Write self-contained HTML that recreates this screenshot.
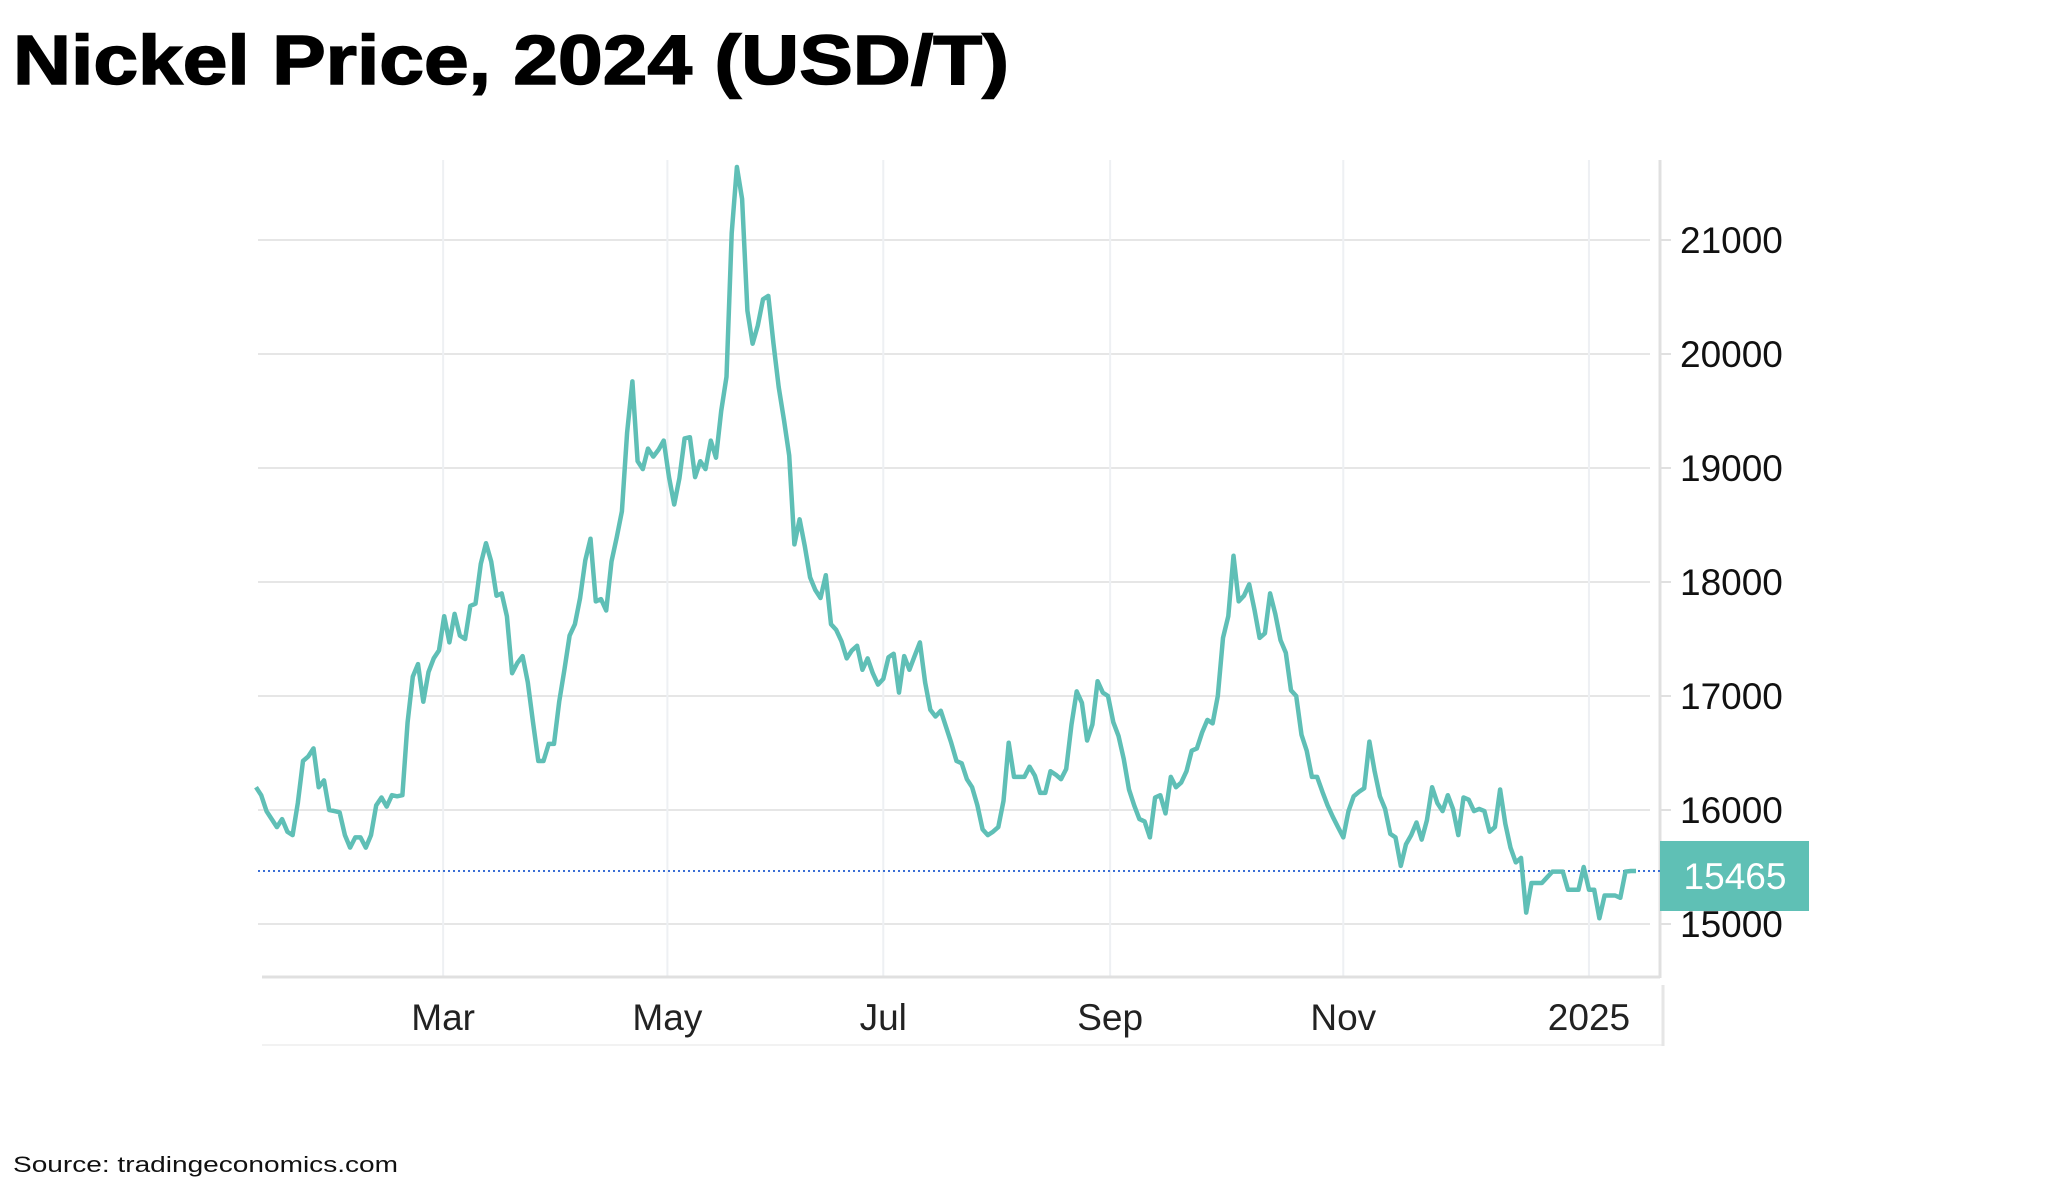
<!DOCTYPE html>
<html><head><meta charset="utf-8"><style>
html,body{margin:0;padding:0;background:#fff;}
svg{display:block;font-family:"Liberation Sans",sans-serif;}
</style></head><body>
<svg id="chart" width="2048" height="1198" viewBox="0 0 2048 1198" xmlns="http://www.w3.org/2000/svg">
<text x="13" y="84" font-size="70" font-weight="bold" fill="#000" textLength="996" lengthAdjust="spacingAndGlyphs" stroke="#000" stroke-width="1.5">Nickel Price, 2024 (USD/T)</text>
<text x="13" y="1172" font-size="22" fill="#111" textLength="385" lengthAdjust="spacingAndGlyphs">Source: tradingeconomics.com</text>
<g id="grid"></g>
<g id="axes"></g>
<g id="series"></g>
<g id="labels"></g>
</svg>
<script>
const prices = [
16200,16130,15990,15920,15850,15920,15810,15780,16060,16430,
16470,16540,16200,16260,16000,15990,15980,15780,15670,15760,
15760,15670,15780,16040,16110,16030,16130,16120,16130,
16770,17170,17280,16950,17210,17330,17400,17700,17470,17720,
17530,17500,17790,17810,18160,18340,18180,17880,17900,17700,
17200,17290,17350,17120,16770,16430,16430,16580,16580,
16950,17230,17530,17630,17860,18190,18380,17830,17850,
17750,18180,18390,18620,19310,19760,19060,18990,19170,19100,
19160,19240,18920,18680,18910,19260,19270,18920,19060,18990,
19240,19090,19500,19800,21060,21640,21360,20380,20090,20250,
20480,20510,20090,19710,19420,19110,18330,18550,18310,18040,
17930,17860,18060,17630,17580,17480,17330,17400,17440,17230,
17330,17200,17100,17150,17340,17370,17030,17350,17230,17350,
17470,17120,16880,16820,16870,16730,16590,16430,16410,16270,
16200,16040,15830,15780,15810,15850,16080,16590,16290,16290,
16290,16380,16300,16150,16150,16340,16310,16270,16360,16750,
17040,16940,16610,16750,17130,17030,17000,16770,16650,16450,
16180,16040,15920,15900,15760,16110,16130,15970,16290,16200,
16240,16340,16520,16540,16680,16790,16760,17000,17510,17700,
18230,17830,17880,17980,17760,17510,17550,17900,17720,17490,
17380,17050,17000,16660,16520,16290,16290,16160,16040,15940,
15850,15760,15990,16120,16160,16190,16600,16340,16120,16010,
15790,15760,15510,15700,15780,15890,15740,15910,16200,16060,
15990,16130,16010,15780,16110,16090,15990,16010,15990,15810,
15850,16180,15880,15670,15540,15580,15100,15360,15360,15360,
15410,15460,15460,15460,15300,15300,15300,15500,15300,15300,
15050,15250,15250,15250,15230,15460,15465,15465
];
const xTickLabels = ["Mar","May","Jul","Sep","Nov","2025"];
const xTickIndex = [35.8,78.7,120.0,163.4,208.0,255.0];
const yTicks = [15000,16000,17000,18000,19000,20000,21000];
const lastValue = 15465;

const NS="http://www.w3.org/2000/svg";
const X0=256, X1=1636, Y15=924, PER=114;
function xs(i){return X0+(X1-X0)*i/(prices.length-1);}
function ys(v){return Y15-(v-15000)/1000*PER;}
function mk(tag,attrs,parent){const e=document.createElementNS(NS,tag);for(const k in attrs)e.setAttribute(k,attrs[k]);parent.appendChild(e);return e;}
const grid=document.getElementById('grid'),axes=document.getElementById('axes'),series=document.getElementById('series'),labels=document.getElementById('labels');

yTicks.forEach(v=>{
  const l=mk('line',{x1:258,x2:1650,y1:ys(v),y2:ys(v),stroke:'#e6e6e6','stroke-width':2},grid);
  
  
  const t=mk('line',{x1:1660,x2:1671,y1:ys(v),y2:ys(v),stroke:'#e0e0e0','stroke-width':2},axes);
  
  
  const tx=mk('text',{x:1680,y:ys(v)+13,'font-size':37,fill:'#111'},labels);
  tx.textContent=String(v);
  
  
});
xTickIndex.forEach((idx,k)=>{
  const x=xs(idx);
  const g=mk('line',{x1:x,x2:x,y1:160,y2:977,stroke:'#eef0f3','stroke-width':2},grid);
  
  
  const t=mk('text',{x:x,y:1030,'font-size':37,fill:'#222','text-anchor':'middle'},labels);
  t.textContent=xTickLabels[k];
  
  
});
let a=mk('line',{x1:262,x2:1660,y1:977,y2:977,stroke:'#e0e0e0','stroke-width':3},axes);


a=mk('line',{x1:1660,x2:1660,y1:160,y2:978,stroke:'#e0e0e0','stroke-width':3},axes);


a=mk('line',{x1:262,x2:1663,y1:1045,y2:1045,stroke:'#f2f2f2','stroke-width':2},axes);


a=mk('line',{x1:1663,x2:1663,y1:985,y2:1046,stroke:'#e6e6e6','stroke-width':3},axes);



const ref=mk('line',{x1:258,x2:1660,y1:ys(lastValue),y2:ys(lastValue),stroke:'#3b6fd6','stroke-width':2,'stroke-dasharray':'2 3'},series);


const pts=prices.map((v,i)=>xs(i).toFixed(1)+','+ys(v).toFixed(1)).join(' ');
const pl=mk('polyline',{points:pts,fill:'none',stroke:'#5fbfb6','stroke-width':4.5,'stroke-linejoin':'round'},series);



const by=ys(lastValue);
const box=mk('rect',{x:1660,y:by-30,width:149,height:70,fill:'#5fc0b5'},labels);


const bt=mk('text',{x:1735,y:by+18,'font-size':37,fill:'#fff','text-anchor':'middle'},labels);
bt.textContent=String(lastValue);


</script>
</body></html>
